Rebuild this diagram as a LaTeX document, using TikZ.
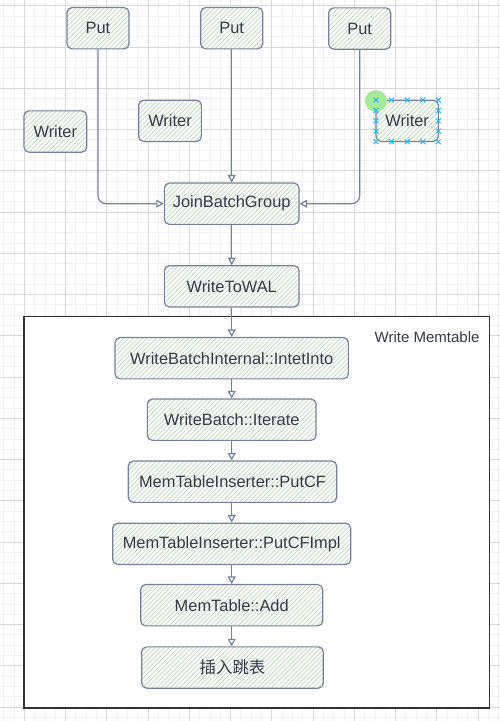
\documentclass[tikz,border=0pt]{standalone}
\usepackage{fontspec}
\setmainfont{Liberation Sans}
\newfontfamily\cjk{Noto Sans CJK SC}
\usetikzlibrary{arrows.meta,calc}
\definecolor{gridminor}{HTML}{F1F1F1}
\definecolor{gridmajor}{HTML}{D9D9D9}
\definecolor{boxline}{HTML}{74839B}
\definecolor{hatchc}{HTML}{C4DBC1}
\definecolor{txt}{HTML}{333A48}
\definecolor{sel}{HTML}{29B6F2}
\definecolor{hover}{HTML}{A6E89C}
\definecolor{hoverline}{HTML}{8CDA80}
\tikzset{
 box/.style={draw=boxline, line width=1.2pt, rounded corners=5pt, fill=white,
  minimum height=41.3pt, inner sep=0pt, text=txt, font=\fontsize{16.4}{19}\selectfont,
  path picture={\foreach \k in {0,...,70}{\draw[hatchc, line width=0.8pt]
   ($(path picture bounding box.south west)+(-50pt+\k*4.6pt,0)$) -- ++(60pt,60pt);}}},
 conn/.style={draw=boxline, line width=1.2pt, -{Triangle[open,length=7.5pt,width=8pt]}},
 gminor/.style={draw=gridminor, line width=0.8pt},
 gmajor/.style={draw=gridmajor, line width=0.8pt},
 selx/.style={draw=sel, line width=1pt},
}
\begin{document}
\begin{tikzpicture}[x=1pt,y=-1pt]
\useasboundingbox (0,0) rectangle (500,721);
\fill[white] (0,0) rectangle (500,721);
% grid
\foreach \k in {0,...,48}{\draw[gminor] ({3.675+10.3125*\k},0) -- ({3.675+10.3125*\k},721);}
\foreach \k in {0,...,69}{\draw[gminor] (0,{5.8+10.3125*\k}) -- (500,{5.8+10.3125*\k});}
\foreach \k in {0,...,11}{\draw[gmajor] ({24.3+41.25*\k},0) -- ({24.3+41.25*\k},721);}
\foreach \k in {0,...,17}{\draw[gmajor] (0,{5.8+41.25*\k}) -- (500,{5.8+41.25*\k});}
% frame
\draw[line width=1.3pt, draw=black!80, fill=white] (24,316.7) rectangle (489.3,708);
\node[anchor=west, text=txt, font=\fontsize{15}{18}\selectfont, inner sep=0pt] (lbl) at (374.5,337.5) {Write Memtable};
% nodes
\node[box, minimum width=62pt] (put1) at (98,28.2) {Put};
\node[box, minimum width=62pt] (put2) at (231.7,28.2) {Put};
\node[box, minimum width=62pt] (put3) at (359.7,28.5) {Put};
\node[box, minimum width=62.7pt] (w1) at (55.3,131.5) {Writer};
\node[box, minimum width=62.7pt] (w2) at (170,120.8) {Writer};
\node[box, minimum width=62.3pt] (w3) at (407.2,120.8) {Writer};
\node[box, minimum width=134.7pt] (jbg) at (231.7,203.7) {JoinBatchGroup};
\node[box, minimum width=134.7pt] (wal) at (231.7,286.3) {WriteToWAL};
\node[box, minimum width=233.3pt] (wbi) at (231.7,358.2) {WriteBatchInternal::IntetInto};
\node[box, minimum width=168.7pt] (wbit) at (231.7,419.7) {WriteBatch::Iterate};
\node[box, minimum width=208.4pt] (pcf) at (232.5,481.7) {MemTableInserter::PutCF};
\node[box, minimum width=238pt] (pcfi) at (231.7,543.8) {MemTableInserter::PutCFImpl};
\node[box, minimum width=182pt] (add) at (231.7,605.2) {MemTable::Add};
\node[box, minimum width=181.6pt] (skip) at (232.5,667.5) {{\cjk 插入跳表}};
% selection marks
\fill[hover] (376,101) circle (11pt);
\foreach \p in {(376,100),(391.5,100),(407.2,100),(422.8,100),(438.3,100),
  (376,141.7),(391.5,141.7),(407.2,141.7),(422.8,141.7),(438.3,141.7),
  (376,110.4),(376,120.8),(376,131.2),(438.3,110.4),(438.3,120.8),(438.3,131.2)}{
  \draw[selx] \p ++(-2.5pt,-2.5pt) -- ++(5pt,5pt) \p ++(-2.5pt,2.5pt) -- ++(5pt,-5pt);}
% connectors
\draw[conn, rounded corners=8pt] (put1.south) |- (jbg.west);
\draw[conn, rounded corners=8pt] (put3.south) |- (jbg.east);
\draw[conn] (put2.south) -- (jbg.north);
\draw[conn] (jbg.south) -- (wal.north);
\draw[conn] (wal.south) -- (wbi.north);
\draw[conn] (wbi.south) -- (wbit.north);
\draw[conn] (wbit.south) -- (wbit.south|-pcf.north);
\draw[conn] (wbit.south|-pcf.south) -- (wbit.south|-pcfi.north);
\draw[conn] (pcfi.south) -- (add.north);
\draw[conn] (add.south) -- (add.south|-skip.north);
\end{tikzpicture}
\end{document}
